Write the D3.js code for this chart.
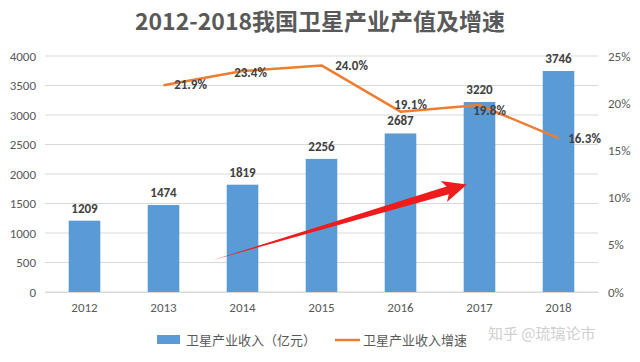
<!DOCTYPE html>
<html>
<head>
<meta charset="utf-8">
<script src="https://cdn.jsdelivr.net/npm/d3@7"></script>
<style>
  body { margin: 0; background: #fff; }
  text { font-family: Calibri, Carlito, "Liberation Sans", "Noto Sans CJK SC", sans-serif; }
</style>
</head>
<body>
<script>
// data
var years = ['2012', '2013', '2014', '2015', '2016', '2017', '2018']
var revenue = [1209, 1474, 1819, 2256, 2687, 3220, 3746]
var growth = [null, 21.9, 23.4, 24.0, 19.1, 19.8, 16.3]
var leftTicks = [0, 500, 1000, 1500, 2000, 2500, 3000, 3500, 4000]
var rightTicks = [0, 5, 10, 15, 20, 25]
var growthLabelOffset = [null, [27, 0], [8, 2], [30, 1], [10, -7], [10, 6], [26, 1]]

var width = 640, height = 362
var margin = { left: 45, right: 42, top: 56, bottom: 70 }

var svg = d3.select('body').append('svg')
    .attr('width', width)
    .attr('height', height)

// title
svg.append('text')
    .attr('x', 320).attr('y', 30)
    .attr('text-anchor', 'middle')
    .attr('fill', '#595959')
    .style('font-size', '23px')
    .style('font-weight', 'bold')
    .style('font-family', '"Noto Sans CJK SC", sans-serif')
    .text('2012-2018我国卫星产业产值及增速')

var x = d3.scaleBand()
    .domain(years)
    .range([margin.left, width - margin.right])
    .paddingInner(0.6)
    .paddingOuter(0.3)

var y = d3.scaleLinear().domain([0, 4000]).range([height - margin.bottom, margin.top])
var y2 = d3.scaleLinear().domain([0, 25]).range([height - margin.bottom, margin.top])

// gridlines
svg.append('g')
    .selectAll('line')
    .data(leftTicks)
    .enter().append('line')
    .attr('x1', margin.left).attr('x2', width - margin.right)
    .attr('y1', d => y(d)).attr('y2', d => y(d))
    .attr('stroke', '#d9d9d9')
    .attr('stroke-width', 1)

// left axis
var yAxis = d3.axisLeft(y).tickValues(leftTicks).tickSize(0).tickPadding(9)
    .tickFormat(d3.format('d'))
svg.append('g')
    .attr('transform', 'translate(' + margin.left + ',0)')
    .call(yAxis)
    .call(g => g.select('.domain').remove())
    .selectAll('text')
    .attr('fill', '#595959')
    .style('font-size', '13px')

// right axis
var y2Axis = d3.axisRight(y2).tickValues(rightTicks).tickSize(0).tickPadding(10)
    .tickFormat(d => d + '%')
svg.append('g')
    .attr('transform', 'translate(' + (width - margin.right) + ',0)')
    .call(y2Axis)
    .call(g => g.select('.domain').remove())
    .selectAll('text')
    .attr('fill', '#595959')
    .style('font-size', '13px')

// x axis
var xAxis = d3.axisBottom(x).tickSize(0).tickPadding(11)
svg.append('g')
    .attr('transform', 'translate(0,' + y(0) + ')')
    .call(xAxis)
    .call(g => g.select('.domain').attr('stroke', '#d9d9d9'))
    .selectAll('text')
    .attr('fill', '#595959')
    .style('font-size', '13px')

// bars
svg.selectAll('rect.bar')
    .data(revenue)
    .enter().append('rect')
    .attr('class', 'bar')
    .attr('x', (d, i) => x(years[i]))
    .attr('y', d => y(d))
    .attr('width', x.bandwidth())
    .attr('height', d => y(0) - y(d))
    .attr('fill', '#5b9bd5')

svg.selectAll('text.barlabel')
    .data(revenue)
    .enter().append('text')
    .attr('class', 'barlabel')
    .attr('x', (d, i) => x(years[i]) + x.bandwidth() / 2)
    .attr('y', d => y(d) - 8)
    .attr('text-anchor', 'middle')
    .attr('fill', '#404040')
    .style('font-size', '13px')
    .style('font-weight', 'bold')
    .text(d => d)

// growth line
var pts = growth.map((g, i) => [years[i], g]).filter(p => p[1] !== null)
var cx = d => x(d) + x.bandwidth() / 2
var line = d3.line().x(p => cx(p[0])).y(p => y2(p[1]))
svg.append('path')
    .datum(pts)
    .attr('d', line)
    .attr('fill', 'none')
    .attr('stroke', '#ed7d31')
    .attr('stroke-width', 2.5)
    .attr('stroke-linejoin', 'round')

svg.selectAll('text.linelabel')
    .data(pts)
    .enter().append('text')
    .attr('class', 'linelabel')
    .attr('x', p => cx(p[0]) + growthLabelOffset[years.indexOf(p[0])][0])
    .attr('y', p => y2(p[1]) + growthLabelOffset[years.indexOf(p[0])][1] + 4)
    .attr('text-anchor', 'middle')
    .attr('fill', '#404040')
    .style('font-size', '13px')
    .style('font-weight', 'bold')
    .text(p => p[1].toFixed(1) + '%')

// red arrow annotation (in data coords: category position, value)
var arrowFrom = [1.62, 540]
var arrowTo = [4.84, 1820]
var step = x.step()
var ax = v => cx(years[0]) + v * step
var x0 = ax(arrowFrom[0]), y0 = y(arrowFrom[1])
var x1 = ax(arrowTo[0]), y1 = y(arrowTo[1])
var ang = Math.atan2(y1 - y0, x1 - x0)
var len = Math.hypot(x1 - x0, y1 - y0)
var headLen = 20, headW = 11, shaftW = 4
var arrow = svg.append('g')
    .attr('transform', 'translate(' + x0 + ',' + y0 + ') rotate(' + (ang * 180 / Math.PI) + ')')
arrow.append('path')
    .attr('d', 'M0,0 L' + (len - headLen) + ',' + (-shaftW) + ' L' + (len - headLen - 4) + ',' + (-headW) +
        ' L' + len + ',0 L' + (len - headLen - 4) + ',' + headW + ' L' + (len - headLen) + ',' + shaftW + ' Z')
    .attr('fill', '#ee1c1c')

// legend
var lg = svg.append('g')
lg.append('rect').attr('x', 157).attr('y', 335).attr('width', 23).attr('height', 9).attr('fill', '#5b9bd5')
lg.append('text').attr('x', 186).attr('y', 345).attr('fill', '#595959')
    .style('font-size', '13px').style('font-family', '"Noto Sans CJK SC", sans-serif')
    .text('卫星产业收入（亿元）')
lg.append('line').attr('x1', 335).attr('x2', 360).attr('y1', 340).attr('y2', 340)
    .attr('stroke', '#ed7d31').attr('stroke-width', 2.5)
lg.append('text').attr('x', 363).attr('y', 345).attr('fill', '#595959')
    .style('font-size', '13px').style('font-family', '"Noto Sans CJK SC", sans-serif')
    .text('卫星产业收入增速')

// watermark
svg.append('text')
    .attr('x', 488).attr('y', 339)
    .attr('fill', '#d0d0d0')
    .style('font-size', '15px')
    .style('font-family', '"Noto Sans CJK SC", sans-serif')
    .text('知乎 @琉璃论市')
</script>
</body>
</html>
